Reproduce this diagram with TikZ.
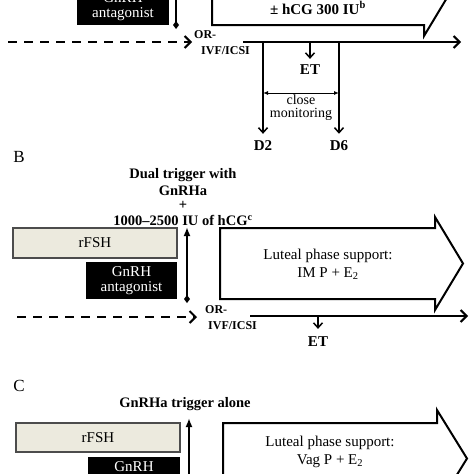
\documentclass[tikz,border=0pt]{standalone}
\usepackage{fontspec}
\setmainfont{Liberation Serif}
\usetikzlibrary{arrows.meta}
\definecolor{fshbeige}{RGB}{236,234,222}
\tikzset{
  fshbox/.style={draw=black!70,fill=fshbeige,line width=1.2pt,minimum width=164pt,
    minimum height=30pt,inner sep=0pt,font=\fontsize{15}{15}\selectfont},
  antbox/.style={fill=black,text=white,minimum width=92pt,minimum height=37pt,
    inner sep=0pt,align=center,font=\fontsize{15}{15}\selectfont},
  lutealarr/.style={draw=black,line width=2pt,line join=miter,fill=white},
  lutealtxt/.style={align=center,inner sep=0pt,font=\fontsize{15}{18}\selectfont},
  trigger/.style={line width=1.8pt,{Latex[length=9pt,width=7pt]}-{Turned Square[length=8pt,width=6pt]}},
  tline/.style={line width=2pt,-{Straight Barb[length=6pt,width=12pt]}},
  dashline/.style={line width=2pt,dash pattern=on 9pt off 7pt,-{Straight Barb[length=6pt,width=12pt]}},
  tick/.style={line width=1.5pt,-{Straight Barb[length=5pt,width=9pt]}},
  lab/.style={inner sep=0pt,font=\fontsize{15}{17}\selectfont\bfseries},
  oivf/.style={inner sep=0pt,anchor=west,font=\fontsize{12}{14}\selectfont\bfseries},
  trigtxt/.style={align=center,inner sep=0pt,font=\fontsize{14.5}{17}\selectfont\bfseries},
  panel/.style={inner sep=0pt,font=\fontsize{17}{20}\selectfont},
}
\begin{document}
\begin{tikzpicture}[x=1pt,y=-1pt]
  \clip (0,0) rectangle (474,474);
  % A
  \node[antbox] (antA) at (123,6.5) {GnRH\\antagonist};
  \coordinate (trigA1) at (176,-30);
  \coordinate (trigA0) at (176,29);
  \draw[trigger] (trigA1) -- (trigA0);
  \draw[lutealarr] (212,-46) -- (424,-46) -- (424,-57) -- (452,-10.5) -- (424,36) -- (424,25) -- (212,25) -- cycle;
  \node[lab] (hcgA) at (318,8) {± hCG 300 IU\textsuperscript{b}};
  \coordinate (startA) at (8,42);
  \coordinate (opuA) at (192,42);
  \draw[dashline] (startA) -- (opuA);
  \node[oivf] (orA) at (194,35) {OR-};
  \node[oivf] (ivfA) at (201,51) {IVF/ICSI};
  \coordinate (tlA0) at (243,42);
  \coordinate (tlA1) at (461,42);
  \draw[tline] (tlA0) -- (tlA1);
  \node[lab] (etA) at (310,70) {ET};
  \coordinate (etAtop) at (310,42);
  \draw[tick,shorten >=6pt] (etAtop) -- (etA.north);
  \node[lab] (d2) at (263,146) {D2};
  \node[lab] (d6) at (339,146) {D6};
  \coordinate (d2top) at (263,42);
  \coordinate (d6top) at (339,42);
  \draw[tick,shorten >=7pt] (d2top) -- (d2.north);
  \draw[tick,shorten >=7pt] (d6top) -- (d6.north);
  \coordinate (cmL) at (263,93);
  \coordinate (cmR) at (339,93);
  \draw[line width=1pt,{Latex[length=5pt,width=4pt]}-{Latex[length=5pt,width=4pt]}] (cmL) -- (cmR);
  \node[align=center,inner sep=0pt,font=\fontsize{14}{13}\selectfont] (closeA) at (301,108) {close\\monitoring};
  % B
  \node[panel] (B) at (19,157) {B};
  \node[trigtxt,anchor=south] (dualB) at (183,226) {Dual trigger with\\GnRHa\\[-3pt]+\\[-1pt]1000--2500 IU of hCG\textsuperscript{c}};
  \node[fshbox] (fshB) at (95,243) {rFSH};
  \node[antbox,minimum width=91pt] (antB) at (131.5,280.5) {GnRH\\antagonist};
  \coordinate (trigB1) at (187,227);
  \coordinate (trigB0) at (187,303);
  \draw[trigger] (trigB1) -- (trigB0);
  \draw[lutealarr] (220,228) -- (435,228) -- (435,217) -- (463,263.5) -- (435,310) -- (435,299) -- (220,299) -- cycle;
  \node[lutealtxt] (lpsB) at (328,264) {Luteal phase support:\\IM P + E\textsubscript{2}};
  \coordinate (startB) at (17,317);
  \coordinate (opuB) at (197,317);
  \draw[dashline] (startB) -- (opuB);
  \node[oivf] (orB) at (205,310) {OR-};
  \node[oivf] (ivfB) at (208,326) {IVF/ICSI};
  \coordinate (tlB0) at (250,316);
  \coordinate (tlB1) at (468,316);
  \draw[tline] (tlB0) -- (tlB1);
  \node[lab] (etB) at (318,342) {ET};
  \coordinate (etBtop) at (318,316);
  \draw[tick,shorten >=8pt] (etBtop) -- (etB.north);
  % C
  \node[panel] (C) at (19,386) {C};
  \node[trigtxt] (aloneC) at (185,404) {GnRHa trigger alone};
  \node[fshbox,minimum height=29pt] (fshC) at (98,437.5) {rFSH};
  \node[antbox] (antC) at (134,475.5) {GnRH\\antagonist};
  \coordinate (trigC1) at (189,418);
  \coordinate (trigC0) at (189,500);
  \draw[trigger] (trigC1) -- (trigC0);
  \draw[lutealarr] (223,423) -- (437,423) -- (437,410) -- (467,458.5) -- (437,507) -- (437,494) -- (223,494) -- cycle;
  \node[lutealtxt] (lpsC) at (330,452) {Luteal phase support:\\Vag P + E\textsubscript{2}};
\end{tikzpicture}
\end{document}
